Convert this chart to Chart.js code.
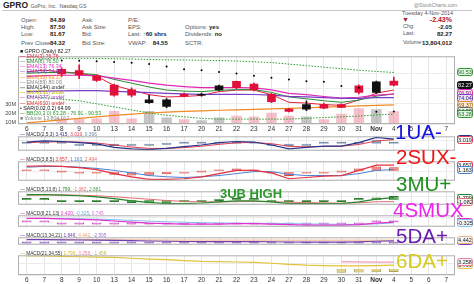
<!DOCTYPE html>
<html>
<head>
<meta charset="utf-8">
<script src="https://cdn.jsdelivr.net/npm/chart.js@4.4.1/dist/chart.umd.min.js"></script>
<style>
  body { margin:0; width:474px; height:284px; overflow:hidden; background:#fff; position:relative;
         font-family:"Liberation Sans", Arial, sans-serif; }
  .a { position:absolute; white-space:nowrap; line-height:1; }
  canvas { position:absolute; left:0; }
  .inf { font-size:6px; color:#555; }
  .inf b { color:#222; }
  .lg { font-size:5.2px; }
  .ml { font-size:4.8px; }
  .big { font-size:20.5px; line-height:1; }
  .hr { position:absolute; height:1px; background:#c8c8c8; }
</style>
</head>
<body>
<div class="a" style="left:3px;top:1px;font-size:8.5px;font-weight:bold;color:#222">GPRO <span style="font-size:5.2px;font-weight:normal;color:#555">GoPro, Inc.&nbsp; Nasdaq GS</span></div>
<div class="a" style="left:414px;top:3px;font-size:5px;color:#888">@StockCharts.com</div>
<div class="hr" style="left:2px;top:10px;width:470px"></div>

<div class="a inf" style="left:21px;top:17px">Open:</div><div class="a inf" style="left:50px;top:17px"><b>84.89</b></div>
<div class="a inf" style="left:21px;top:24px">High:</div><div class="a inf" style="left:50px;top:24px"><b>87.50</b></div>
<div class="a inf" style="left:21px;top:31px">Low:</div><div class="a inf" style="left:50px;top:31px"><b>81.67</b></div>
<div class="a inf" style="left:21px;top:40px">Prev Close:</div><div class="a inf" style="left:50px;top:40px"><b>84.32</b></div>
<div class="a inf" style="left:82px;top:17px">Ask:</div>
<div class="a inf" style="left:82px;top:24px">Ask Size:</div>
<div class="a inf" style="left:82px;top:31px">Bid:</div>
<div class="a inf" style="left:82px;top:40px">Bid Size:</div>
<div class="a inf" style="left:128px;top:17px">P/E:</div>
<div class="a inf" style="left:128px;top:24px">EPS:</div>
<div class="a inf" style="left:128px;top:31px">Last: <b><span style="color:#2a9a2a">↑</span>60 shrs</b></div>
<div class="a inf" style="left:128px;top:40px">VWAP: <b style="margin-left:4px">84.55</b></div>
<div class="a inf" style="left:185px;top:24px">Options: <b>yes</b></div>
<div class="a inf" style="left:185px;top:31px">Dividends: <b>no</b></div>
<div class="a inf" style="left:185px;top:40px">SCTR:</div>

<div class="a inf" style="left:402px;top:11px;font-size:5.5px">Tuesday 4-Nov-2014</div>
<div class="a" style="left:402px;top:16px;font-size:7px;color:#b01030">▼</div>
<div class="a" style="right:22px;top:16px;font-size:7px;font-weight:bold;color:#b01030">-2.43%</div>
<div class="a inf" style="left:403px;top:24px;font-size:5.5px">Chg:</div><div class="a inf" style="right:22px;top:24px"><b>-2.05</b></div>
<div class="a inf" style="left:403px;top:31px;font-size:5.5px">Last:</div><div class="a inf" style="right:22px;top:31px"><b>82.27</b></div>
<div class="a inf" style="left:403px;top:40px;font-size:5.5px">Volume:</div><div class="a inf" style="right:22px;top:40px"><b>13,804,012</b></div>

<canvas id="price" width="474" height="83" style="top:51px"></canvas>
<canvas id="m1" width="474" height="25" style="top:131px"></canvas>
<canvas id="m2" width="474" height="30" style="top:156px"></canvas>
<canvas id="m3" width="474" height="24" style="top:186px"></canvas>
<canvas id="m4" width="474" height="22" style="top:210px"></canvas>
<canvas id="m5" width="474" height="18" style="top:232px"></canvas>
<canvas id="m6" width="474" height="35" style="top:250px"></canvas>

<div id="legend"></div>

<div class="a big" style="left:395px;top:122px;color:#1414e0">1UA-</div>
<div class="a big" style="left:396px;top:147px;color:#f01414">2SUX-</div>
<div class="a big" style="left:396px;top:174px;color:#1e8f1e">3MU+</div>
<div class="a big" style="left:393px;top:200px;color:#ee22ee">4SMUX</div>
<div class="a big" style="left:396px;top:226px;color:#6a1fb0">5DA+</div>
<div class="a big" style="left:396px;top:251px;color:#d6ca22">6DA+</div>
<div class="a" style="left:220px;top:187px;font-size:13px;font-weight:bold;color:#2a9a2a">3UB HIGH</div>

<script>
const labels = ['6','7','8','9','10','13','14','15','16','17','20','21','22','23','24','27','28','29','30','31','Nov','4','5','6','7'];

// daily candles (Oct 8 .. Nov 4), first two days hidden behind the legend
const open  = [null,null,92.6,91.8,88.3,82.3,79.2,70.8,68.3,76.2,75.6,79.2,84.7,82.9,76.2,66.5,66.5,69.5,69.5,81.7,77.4,84.89];
const high  = [null,null,93.5,95.6,89.0,83.0,80.5,75.6,73.5,77.0,77.0,82.3,84.95,83.5,76.8,67.0,72.0,70.5,70.0,82.5,84.9,87.50];
const low   = [null,null,87.95,86.5,84.6,75.0,74.5,70.2,67.5,74.5,75.0,78.8,80.0,78.5,70.8,64.75,65.5,66.8,67.5,76.5,76.8,81.67];
const close = [null,null,89.5,88.9,85.3,75.6,75.6,72.6,72.6,75.0,76.2,81.7,80.5,79.2,71.4,65.0,69.5,67.1,67.7,77.4,84.32,82.27];
const upDay = [0,0,0,0,0,0,0,1,1,0,1,1,0,0,0,0,1,0,0,0,1,0];
const volume = [null,null,6,6,6,14,6,14,7,5,4,7,9,8,12,9,8,5,11,17,16,13.8];

const ema3  = [91,92,91,90,88,82,79,76,74.5,74.8,75.5,78,79,79,76,71,70.5,69.5,69,72.5,77,79];
const ema8  = [90,90.5,90.5,90,89,86,83.5,81,79,78.3,78,78.8,79.3,79.3,77.5,74.5,73.3,72,71,72.5,75,76.5];
const ema13 = [88,88.5,88.7,88.7,88.3,86.8,85.3,83.6,82.2,81.3,80.6,80.6,80.6,80.4,79.1,76.9,76.0,74.8,73.8,74.3,75.7,76.34];
const ema34 = [78,78.3,78.5,78.6,78.6,78.2,77.8,77.3,76.8,76.5,76.2,76.2,76.2,76.1,75.7,74.9,74.5,74.0,73.6,73.6,74.0,74.04];
const ema50 = [57.5,58.5,59.5,60.5,61.5,62.5,63.3,64.0,64.6,65.0,65.4,65.8,66.1,66.4,66.7,67.0,67.4,67.8,68.2,68.6,69.0,69.37];
const bbUpper = [99,99.5,99.8,99.8,99.7,99.5,99.3,99,98.8,98.7,98.5,98.3,98,97.5,97,96,95,94,93,92,91.2,90.53];
const bbLower = [75,74,73,72,70,68,66,64,62.5,61.5,60.5,60,60,60,60,60,60.5,61,61.5,62,62.7,63.28];
const sar = [null,null,98.4,98.2,97.8,97.4,96.8,96,94.4,92.6,92.0,90.8,89.8,88.3,87.1,85.9,84.7,84.5,81.7,80.5,64.75,64.99];

const m1Macd = [1.3,2.1,1.7,0.9,0,-2.6,-3.8,-4.3,-3.4,-2.1,-0.9,0.9,1.7,1.3,-0.9,-3.8,-2.6,-1.7,-1.7,0.9,4.7,3.415];
const m1Sig  = [0.9,1.3,1.5,1.3,0.6,-0.9,-2.4,-3.4,-3.4,-2.8,-1.8,-0.4,0.7,1.0,0.1,-1.9,-2.2,-2.0,-1.8,-0.5,2.1,3.019];
const m1Hist = [0.4,0.8,0.2,-0.4,-0.6,-1.7,-1.4,-0.9,0,0.7,0.9,1.3,1.0,0.3,-1.0,-1.9,-0.4,0.3,0.1,1.4,2.6,0.396];

const m2Macd = [2.9,3.3,2.9,2.2,1.1,-1.1,-2.9,-4.4,-4.4,-4.0,-2.9,-1.1,0.7,0.7,-0.7,-4.0,-3.3,-2.5,-2.2,0.7,3.6,3.657];
const m2Sig  = [2.5,2.9,2.9,2.5,1.8,0.7,-0.7,-2.2,-2.9,-3.3,-2.9,-2.2,-1.1,0,0,-1.5,-2.2,-2.2,-2.2,-1.1,0.7,1.163];
const m2Hist = [0.4,0.4,0,-0.3,-0.7,-1.8,-2.2,-2.2,-1.5,-0.7,0,1.1,1.8,0.7,-0.7,-2.5,-1.1,-0.3,0,1.8,2.9,2.494];

const m3Macd = [3.9,3.9,3.5,3.1,2.3,1.1,-0.5,-1.7,-2.5,-2.5,-2.1,-1.3,-0.5,-0.5,-1.3,-2.5,-2.5,-2.5,-2.5,-1.3,0.7,1.799];
const m3Sig  = [3.5,3.7,3.7,3.5,3.1,2.4,1.5,0.6,-0.3,-0.9,-1.3,-1.3,-1.1,-1.0,-1.1,-1.5,-1.8,-2.0,-2.2,-1.9,-1.2,-1.082];
const m3Hist = [0.4,0.2,-0.2,-0.4,-0.8,-1.3,-2.0,-2.3,-2.2,-1.6,-0.8,0,0.6,0.5,-0.2,-1.0,-0.7,-0.5,-0.3,0.6,1.9,2.881];

const m4Macd = [4,4,3.5,3,2.5,1.5,0.5,-0.5,-1,-1.5,-1.5,-1.5,-1,-1,-1.5,-2,-2.5,-2.5,-2.5,-2,-0.5,0.42];
const m4Sig  = [3.8,3.9,3.8,3.6,3.3,2.8,2.1,1.4,0.8,0.3,-0.1,-0.4,-0.6,-0.7,-0.8,-1.0,-1.3,-1.5,-1.7,-1.8,-1.3,-0.325];
const m4Hist = [0.2,0.1,-0.3,-0.6,-0.8,-1.3,-1.6,-1.9,-1.8,-1.8,-1.8,-1.7,-1.6,-1.7,-1.9,-2.0,-2.0,-1.8,-1.6,-0.6,0.8,0.745];

const m5Macd = [6,6,5.5,5,4.5,3.5,2.5,1.5,0.5,-0.2,-0.6,-0.8,-0.8,-0.8,-1.2,-2,-2.3,-2.3,-2.3,-1.5,0.5,1.846];
const m5Sig  = [6.5,6.4,6.3,6.1,5.9,5.7,5.4,5.2,4.9,4.7,4.6,4.5,4.5,4.5,4.5,4.4,4.4,4.4,4.4,4.4,4.4,4.442];
const m5Hist = [-0.5,-0.4,-0.8,-1.1,-1.4,-2.2,-2.9,-3.7,-4.4,-4.9,-5.2,-5.3,-5.3,-5.3,-5.7,-6.4,-6.7,-6.7,-6.7,-5.9,-3.9,-2.595];

const m6Macd = [6.2,6.2,6.0,5.8,5.6,5.5,5.1,4.7,4.4,4.0,3.6,3.5,3.3,3.1,2.7,2.2,1.8,1.6,1.5,1.5,1.6,1.799];
const m6Sig  = [null,null,null,null,null,null,null,null,null,null,null,null,null,null,null,null,null,null,3.4,3.33,3.28,3.258];
const m6Hist = [null,null,null,null,null,null,null,null,null,null,null,null,null,null,null,null,null,null,-1.8,-1.7,-1.6,-1.459];

const RED = '#e0103a', BLK = '#111';
const FONT = 'Liberation Sans';

// boxed last-value tags on the right axis + frame around the plot
const tagPlugin = {
  id: 'tags',
  afterDraw(chart, args, opts) {
    const ctx = chart.ctx, a = chart.chartArea;
    ctx.save();
    ctx.strokeStyle = '#b0b0b0';
    ctx.lineWidth = 1;
    ctx.strokeRect(a.left + 0.5, a.top + 0.5, a.right - a.left - 1, a.bottom - a.top - 1);
    const sc = chart.scales[opts.axis || 'y'];
    (opts.items || []).forEach(t => {
      const y = Math.round(sc.getPixelForValue(t.v));
      const x = a.right + 2, w = 472 - x, h = 7;
      ctx.fillStyle = t.bg;
      ctx.strokeStyle = t.border;
      ctx.beginPath();
      ctx.roundRect(x + 0.5, y - h / 2, w, h, 2);
      ctx.fill();
      ctx.stroke();
      ctx.fillStyle = t.fg;
      ctx.font = '5.5px ' + FONT;
      ctx.textAlign = 'center';
      ctx.textBaseline = 'middle';
      ctx.fillText(t.v.toFixed(t.d || 2), x + w / 2 + 0.5, y + 0.5);
    });
    ctx.restore();
  }
};

function xAxis(show) {
  return {
    type: 'category', offset: true,
    grid: { color: '#e6e6e6', drawTicks: false, offset: false },
    border: { display: false },
    ticks: {
      display: show, autoSkip: false, maxRotation: 0, padding: 1, color: '#333',
      font: c => ({ size: 6.5, family: FONT, weight: (c.tick && c.tick.label === 'Nov') ? 'bold' : 'normal' })
    },
    afterFit: s => { s.height = show ? 10 : 0; }
  };
}

function yRight(min, max, step) {
  return {
    position: 'right', min: min, max: max,
    grid: { color: '#ececec', drawTicks: false },
    border: { display: false },
    ticks: {
      stepSize: step, color: '#555', padding: 2, font: { size: 5.5, family: FONT },
      callback: v => Math.abs(v / step - Math.round(v / step)) < 1e-6 ? String(+v.toFixed(1)) : ''
    },
    afterFit: s => { s.width = 19; }
  };
}

const wickData = high.map((h, i) => h == null ? null : [low[i], h]);
const bodyData = open.map((o, i) => o == null ? null : [o, close[i]]);
const candleCol = upDay.map(u => u ? BLK : RED);
const volCol = upDay.map(u => u ? 'rgba(150,150,150,0.55)' : 'rgba(235,130,150,0.5)');

function line(data, color, extra) {
  return Object.assign({ type: 'line', data: data, borderColor: color, borderWidth: 1, pointRadius: 0, tension: 0, order: 3, yAxisID: 'y' }, extra || {});
}

new Chart(document.getElementById('price'), {
  type: 'bar',
  data: {
    labels: labels,
    datasets: [
      { data: volume, yAxisID: 'vol', backgroundColor: volCol, barPercentage: 0.6, categoryPercentage: 1, order: 10, grouped: false },
      line(bbUpper, '#2a9a2a', { borderDash: [1.5, 1.5] }),
      line(bbLower, '#2a9a2a', { borderDash: [1.5, 1.5] }),
      line(ema50, '#f08a24', { borderWidth: 1.2 }),
      line(ema34, '#7a3cc8', { borderWidth: 1.2 }),
      line(ema13, '#e028b8', { borderWidth: 1.2 }),
      line(ema8, '#2e8a3a'),
      line(ema3, '#e0203a'),
      { data: wickData, yAxisID: 'y', backgroundColor: candleCol, barThickness: 1, order: 1, grouped: false },
      { data: bodyData, yAxisID: 'y', backgroundColor: candleCol, barThickness: 8, minBarLength: 1, order: 0, grouped: false },
      line(sar, '#000', { showLine: false, pointRadius: 1, pointBackgroundColor: '#000', pointBorderWidth: 0, order: -1 })
    ]
  },
  options: {
    responsive: false, animation: false,
    layout: { autoPadding: false, padding: 0 },
    plugins: {
      legend: { display: false }, tooltip: { enabled: false },
      tags: { axis: 'y', items: [
        { v: 90.53, bg: '#e8f5e8', border: '#2a9a2a', fg: '#1d6d1d' },
        { v: 82.27, bg: '#111', border: '#111', fg: '#fff' },
        { v: 76.91, bg: '#f8e0f0', border: '#e028b8', fg: '#801060' },
        { v: 74.04, bg: '#ece0f8', border: '#7a3cc8', fg: '#40207a' },
        { v: 69.37, bg: '#fdebd8', border: '#f08a24', fg: '#8a4a10' },
        { v: 64.99, bg: '#f0f0f0', border: '#666', fg: '#222' },
        { v: 63.28, bg: '#e8f5e8', border: '#2a9a2a', fg: '#1d6d1d' }
      ] }
    },
    scales: {
      x: xAxis(true),
      y: yRight(56.8, 101.1, 5),
      vol: {
        position: 'left', min: 0, max: 73,
        grid: { display: false, drawTicks: false }, border: { display: false },
        ticks: { stepSize: 10, labelOffset: 8, padding: 2, color: '#444', font: { size: 5.5, family: FONT },
                 callback: v => (v >= 10 && v <= 30) ? v + 'M' : '' },
        afterFit: s => { s.width = 18; }
      }
    }
  },
  plugins: [tagPlugin]
});

function macd(id, macdVals, sigVals, histVals, c, min, max, step, showX) {
  new Chart(document.getElementById(id), {
    type: 'bar',
    data: {
      labels: labels,
      datasets: [
        { data: histVals, backgroundColor: c.hist, borderColor: c.histEdge, borderWidth: 1,
          barPercentage: 0.55, categoryPercentage: 1, minBarLength: 2, order: 5 },
        { type: 'line', data: sigVals, borderColor: c.sig, borderWidth: 1, pointRadius: 0, order: 2 },
        { type: 'line', data: macdVals, borderColor: c.macd, borderWidth: 1.2, pointRadius: 0, order: 1 }
      ]
    },
    options: {
      responsive: false, animation: false,
      layout: { autoPadding: false, padding: { left: 18 } },
      plugins: {
        legend: { display: false }, tooltip: { enabled: false },
        tags: { axis: 'y', items: [
          { v: macdVals[macdVals.length - 1], d: 3, bg: '#f4f4f4', border: c.macd, fg: '#222' },
          { v: sigVals[sigVals.length - 1], d: 3, bg: '#f4f4f4', border: c.sig, fg: '#222' }
        ] }
      },
      scales: { x: xAxis(showX), y: yRight(min, max, step) }
    },
    plugins: [tagPlugin]
  });
}

macd('m1', m1Macd, m1Sig, m1Hist, { macd: '#27348a', sig: '#e2404e', hist: 'rgba(110,135,170,0.8)', histEdge: '#5e7390' }, -5.1, 5.53, 2.5, false);
macd('m2', m2Macd, m2Sig, m2Hist, { macd: '#e5303e', sig: '#4a80d6', hist: 'rgba(240,110,100,0.8)', histEdge: '#d04a44' }, -5.1, 5.8, 2.5, false);
macd('m3', m3Macd, m3Sig, m3Hist, { macd: '#23852a', sig: '#e07070', hist: 'rgba(70,150,70,0.8)', histEdge: '#2f7a2f' }, -3.3, 6.3, 2.5, false);
macd('m4', m4Macd, m4Sig, m4Hist, { macd: '#e030d0', sig: '#80c0ee', hist: 'rgba(232,110,222,0.8)', histEdge: '#c040b8' }, -4, 7, 2.5, false);
macd('m5', m5Macd, m5Sig, m5Hist, { macd: '#7040b0', sig: '#f0b080', hist: 'rgba(150,100,205,0.8)', histEdge: '#7a50b0' }, -11.4, 14.3, 5, false);
macd('m6', m6Macd, m6Sig, m6Hist, { macd: '#e2c236', sig: '#f080a0', hist: 'rgba(215,205,125,0.9)', histEdge: '#b0a050' }, -2.9, 6.5, 2.5, true);

// html legends
const priceLegend = [
  ['■', 'GPRO (Daily) 82.27', '#222'],
  ['—', 'EMA(3) 76.76', '#e0203a'],
  ['—', 'EMA(8) 76.50', '#2e8a3a'],
  ['—', 'EMA(13) 76.34', '#e028b8'],
  ['—', 'EMA(34) 74.04', '#7a3cc8'],
  ['—', 'EMA(50) 69.37', '#f08a24'],
  ['—', 'EMA(89) 80.00', '#888'],
  ['—', 'EMA(144) undef', '#333'],
  ['—', 'EMA(233) undef', '#c8b400'],
  ['—', 'EMA(377) undef', '#a040c0'],
  ['—', 'EMA(610) undef', '#e03030'],
  ['•', 'SAR(0.02,0.2) 64.99', '#111'],
  ['—', 'BB(20,2.0) 63.28 - 76.91 - 90.53', '#2a9a2a'],
  ['■', 'Volume 13,804,012', '#888']
];
const macdLegend = [
  [131, 'MACD(2,5,3)', ['3.415', '#27348a'], ['3.019', '#e2404e'], ['0.396', '#6e87aa']],
  [156, 'MACD(3,8,5)', ['3.657', '#e5303e'], ['1.163', '#4a80d6'], ['2.494', '#e06a60']],
  [186, 'MACD(5,13,8)', ['1.799', '#23852a'], ['-1.082', '#e07070'], ['2.881', '#46a046']],
  [210, 'MACD(8,21,13)', ['0.420', '#e030d0'], ['-0.325', '#60a8e0'], ['0.745', '#e070dc']],
  [232, 'MACD(13,34,21)', ['1.846', '#7040b0'], ['4.442', '#e8a070'], ['-2.595', '#9a70d0']],
  [250, 'MACD(21,34,55)', ['1.799', '#d8b830'], ['3.258', '#f080a0'], ['-1.459', '#c0b060']]
];
let html = '';
priceLegend.forEach((e, i) => {
  html += '<div class="a lg" style="left:20px;top:' + (48.5 + i * 5.2) + 'px;color:' + e[2] + '">' + e[0] + ' ' + e[1] + '</div>';
});
macdLegend.forEach(e => {
  html += '<div class="a ml" style="left:20px;top:' + (e[0] + 1.5) + 'px;color:#333"><span style="color:' + e[2][1] + '">—</span> ' + e[1] + ' ' +
    '<span style="color:' + e[2][1] + '">' + e[2][0] + '</span>, <span style="color:' + e[3][1] + '">' + e[3][0] + '</span>, ' +
    '<span style="color:' + e[4][1] + '">' + e[4][0] + '</span></div>';
});
document.getElementById('legend').innerHTML = html;
</script>
</body>
</html>
